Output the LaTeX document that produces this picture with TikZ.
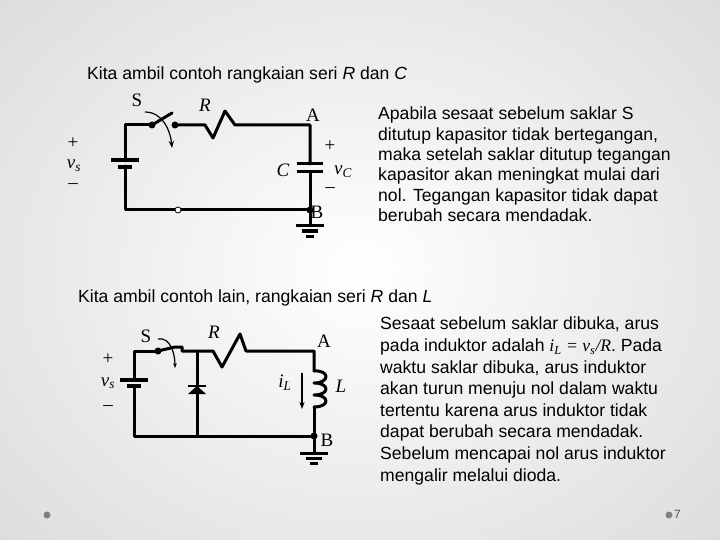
\documentclass[tikz,border=0pt]{standalone}
\usepackage{fontspec}
\setmainfont{Liberation Sans}
\newfontfamily\serf{Liberation Serif}
\usetikzlibrary{arrows.meta}
\begin{document}
\begin{tikzpicture}[x=1pt,y=-1pt,
  wire/.style={line width=3pt,line cap=round,line join=round},
  lab/.style={font=\serf\fontsize{19}{19}\selectfont,inner sep=0pt},
  txt/.style={font=\fontsize{17.6}{20.3}\selectfont,align=left,anchor=north west,inner sep=0pt},
  dot/.style={circle,fill=black,inner sep=0pt,minimum size=7pt}]
\useasboundingbox (0,0) rectangle (720,540);
\shade[inner color=white,outer color=black!14] (-150,-150) rectangle (870,690);
\fill[black!50] (47,515) circle (3.5);
\fill[black!50] (669,515) circle (3.5);
\node[font=\fontsize{12}{12}\selectfont,text=black!70,anchor=west,inner sep=0pt] (pg) at (674,514) {7};
% texts
\node[txt,anchor=west] (t1) at (87,75) {Kita ambil contoh rangkaian seri \textit{R} dan \textit{C}};
\node[txt] (t2) at (378,107) {Apabila sesaat sebelum saklar S\\ditutup kapasitor tidak bertegangan,\\maka setelah saklar ditutup tegangan\\kapasitor akan meningkat mulai dari\\nol. Tegangan kapasitor tidak dapat\\berubah secara mendadak.};
\node[txt,anchor=west] (t3) at (78,298) {Kita ambil contoh lain, rangkaian seri \textit{R} dan \textit{L}};
\node[txt,font=\fontsize{17.6}{21.6}\selectfont] (t4) at (380,317) {Sesaat sebelum saklar dibuka, arus\\pada induktor adalah {\serf\itshape i\textsubscript{L} = v\textsubscript{s}/R}. Pada\\waktu saklar dibuka, arus induktor\\akan turun menuju nol dalam waktu\\tertentu karena arus induktor tidak\\dapat berubah secara mendadak.\\Sebelum mencapai nol arus induktor\\mengalir melalui dioda.};
% ---------- circuit 1
\coordinate (p1) at (152,125); \node[dot] (c1) at (175,125) {};
\coordinate (A1) at (310,125); \node[dot] (B1) at (310,210) {};
\draw[wire] (p1) -- (125,125) -- (125,160);
\draw[wire] (125,166) -- (125,210) -- (B1);
\draw[line width=4pt] (111,160) -- (139,160);
\draw[line width=4pt] (118,167) -- (132,167);
\draw[wire] (c1) -- (205,125) -- (213,138) -- (225,111) -- (235,125) -- (A1) -- (310,164);
\draw[wire] (310,172) -- (B1) -- (310,226);
\draw[line width=3pt] (297,164) -- (323,164) (297,172) -- (323,172);
\draw[line width=3pt] (296,226) -- (324,226) (302,231) -- (318,231) (306,236) -- (314,236);
\fill (p1) circle (3.5);
\draw[wire] (p1) -- (172,113);
\draw[line width=1.2pt,-{Stealth[length=7pt]}] (145,112) to[out=0,in=95] (172,148);
\node[circle,draw,fill=white,inner sep=0pt,minimum size=6pt,line width=0.8pt] (o1) at (178,210) {};
\node[lab] (S1) at (137,100) {S};
\node[lab] (R1) at (205,105) {\itshape R};
\node[lab] (LA1) at (313,115) {A};
\node[lab] (LB1) at (317,212) {B};
\node[lab] at (73,143) {+};
\node[lab] at (74,166) {\itshape v\textsubscript{s}};
\node[lab] at (73,186) {–};
\node[lab] at (283,170) {\itshape C};
\node[lab] at (330,146) {+};
\node[lab] at (343,172) {\itshape v\textsubscript{C}};
\node[lab] at (330,190) {–};
% ---------- circuit 2
\coordinate (p2) at (158,351); \coordinate (c2) at (182,351);
\coordinate (A2) at (314,351); \node[dot] (B2) at (314,436) {};
\draw[wire] (p2) -- (134,351) -- (134,380);
\draw[wire] (134,386) -- (134,436) -- (B2);
\draw[line width=4pt] (120,380) -- (148,380);
\draw[line width=4pt] (127,386) -- (141,386);
\draw[wire] (c2) -- (213,351) -- (222,367) -- (240,334) -- (246,351) -- (A2) -- (314,371);
\draw[wire] (314,371) .. controls (330,370) and (330,383) .. (314,383) .. controls (330,383) and (330,395) .. (314,395) .. controls (330,395) and (330,407) .. (314,407);
\draw[wire] (314,407) -- (B2) -- (314,453);
\draw[line width=3pt] (300,453) -- (328,453) (306,458) -- (322,458) (310,463) -- (318,463);
\draw[wire] (197,351) -- (197,436);
\fill (188,394) -- (206,394) -- (197,386) -- cycle;
\draw[line width=2.5pt] (188,386) -- (206,386);
\fill (p2) circle (3.5);
\draw[wire] (p2) -- (175,347) -- (182,347) -- (c2);
\draw[line width=1.2pt,-{Stealth[length=5pt]}] (158,339) to[out=10,in=90] (175,368);
\draw[line width=1.8pt,-{Stealth[length=7pt]}] (302,373) -- (302,409);
\node[lab] (S2) at (146,336) {S};
\node[lab] (R2) at (214,332) {\itshape R};
\node[lab] (LA2) at (324,341) {A};
\node[lab] (LB2) at (327,440) {B};
\node[lab] at (108,359) {+};
\node[lab] at (108,383) {\itshape v\textsubscript{s}};
\node[lab] at (108,408) {–};
\node[lab] at (285,383) {\itshape i\textsubscript{L}};
\node[lab] at (341,386) {\itshape L};
\end{tikzpicture}
\end{document}
